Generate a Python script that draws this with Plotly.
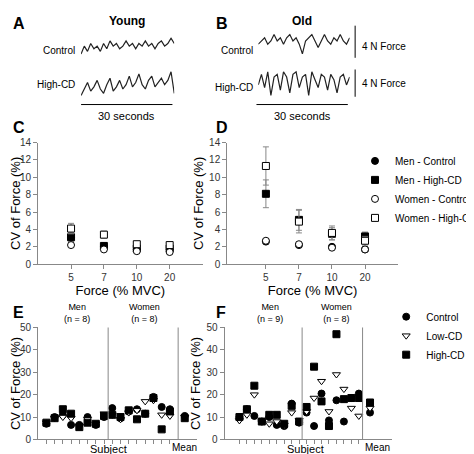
import plotly.graph_objects as go

W, H = 474, 454
def px(x): return x / W
def py(y): return 1 - y / H

# ---- traces (A, B) ----
young_control = [0.2,0.5,0.3,0.6,0.4,0.5,0.3,0.6,0.4,0.7,0.5,0.6,0.4,0.5,0.7,0.5,0.6,0.4,0.6,0.5,0.7,0.5,0.6,0.4,0.6,0.7,0.5,0.6,0.8,0.6]
young_high = [0.2,0.5,0.8,0.4,0.6,0.9,0.5,0.3,0.7,1.0,0.4,0.6,0.9,0.5,0.7,1.1,0.6,0.8,1.2,0.7,0.5,0.9,1.1,0.6,0.8,1.0,0.7,0.9,1.3,0.3]
old_control = [0.5,0.6,0.7,0.5,0.6,0.8,0.6,0.7,0.5,0.7,0.8,0.6,0.7,0.5,0.2,0.6,0.7,0.8,0.6,0.4,0.6,0.8,0.6,0.5,0.7,0.6,0.8,0.6,0.5,0.7]
old_high = [0.6,1.0,0.5,1.1,0.2,0.9,1.0,0.4,1.1,0.9,0.3,1.0,1.1,0.5,0.9,1.0,0.2,1.1,0.8,0.5,1.0,0.9,0.4,1.0,0.8,0.3,0.9,1.0,0.6,0.9]

# ---- C / D ----
force_cats = ["5", "7", "10", "20"]
c_men_ctrl = [3.1, 2.0, 1.7, 1.7]
c_men_high = [3.1, 2.1, 1.8, 1.8]
c_wom_ctrl = [2.2, 1.7, 1.5, 1.4]
c_wom_high = [4.1, 3.4, 2.3, 2.2]
c_err_high = [0.6, 0.4, 0.2, 0.2]
c_err_ctrl = [0.5, 0.2, 0.1, 0.1]
d_men_ctrl = [2.6, 2.2, 2.0, 1.7]
d_men_high = [8.1, 5.1, 3.5, 3.2]
d_wom_ctrl = [2.7, 2.3, 1.9, 1.7]
d_wom_high = [11.3, 4.9, 3.6, 2.7]
d_err_wom_high = [2.2, 1.3, 0.8, 0.5]
d_err_men_high = [1.6, 1.2, 0.7, 0.5]

# ---- E / F ----
e_ctrl = [7,10,11,6.5,6.5,10,6.5,10, 14,9.5,12.5,13.5,11.5,19,14.5,13.5]
e_low = [7.5,9.5,10,9.5,6,9,7,11.5, 11,9,12,13,17,17.5,11,10.5]
e_high = [7.5,9.5,13.5,11.5,5.5,7.5,7,10.5, 11,10,13,9,11.5,18.5,4.5,12.5]
e_mean = [10.5, 10, 9.5]
f_ctrl = [10,13.5,10.5,8,10,6.5,6,16,7.5, 12,6,20.5,8.5,17.5,8,18.5,20.5]
f_low = [8.5,11,20,8,7,8,6.5,12,8.5, 12.5,18.5,26,12.5,29,22.5,14,10.5]
f_high = [10,13.5,24,8,11,11,7,15,8, 14.5,32.5,17,6,47,18,18.5,18.5]
f_mean = [12, 14, 16.5]

fig = go.Figure()
BLK = "black"
GR = "#888"

def line_trace(y, xa, ya):
    fig.add_trace(go.Scatter(x=list(range(len(y))), y=y, mode="lines",
                             line=dict(color="#222", width=1.2), xaxis=xa, yaxis=ya, showlegend=False))

line_trace(young_control, "x", "y")
line_trace(young_high, "x2", "y2")
line_trace(old_control, "x3", "y3")
line_trace(old_high, "x4", "y4")

def mk(sym, fill, size=7):
    return dict(symbol=sym, size=size, color=fill, line=dict(color=BLK, width=1))

pos = [1, 2, 3, 4]
def cd(xa, ya, mc, mh, wc, wh, ewh, emh, emc, legend):
    fig.add_trace(go.Scatter(x=pos, y=mc, mode="markers", marker=mk("circle", BLK), name="Men - Control",
                             error_y=dict(array=emc, color=GR, width=3, thickness=1), xaxis=xa, yaxis=ya, showlegend=legend))
    fig.add_trace(go.Scatter(x=pos, y=mh, mode="markers", marker=mk("square", BLK), name="Men - High-CD",
                             error_y=dict(array=emh, color=GR, width=3, thickness=1), xaxis=xa, yaxis=ya, showlegend=legend))
    fig.add_trace(go.Scatter(x=pos, y=wc, mode="markers", marker=mk("circle", "white"), name="Women - Control",
                             xaxis=xa, yaxis=ya, showlegend=legend))
    fig.add_trace(go.Scatter(x=pos, y=wh, mode="markers", marker=mk("square", "white"), name="Women - High-CD",
                             error_y=dict(array=ewh, color=GR, width=3, thickness=1), xaxis=xa, yaxis=ya, showlegend=legend))

cd("x5", "y5", c_men_ctrl, c_men_high, c_wom_ctrl, c_wom_high, c_err_high, c_err_high, c_err_ctrl, False)
cd("x6", "y6", d_men_ctrl, d_men_high, d_wom_ctrl, d_wom_high, d_err_wom_high, d_err_men_high, [0.2]*4, True)

def ef(xa, ya, ctrl, low, high, mean, meanx, legend):
    xs = list(range(1, len(ctrl) + 1))
    for vals, m, nm in [(ctrl, mk("circle", BLK), "Control"), (low, mk("triangle-down", "white"), "Low-CD"),
                        (high, mk("square", BLK), "High-CD")]:
        fig.add_trace(go.Scatter(x=xs, y=vals, mode="markers", marker=m, name=nm, xaxis=xa, yaxis=ya,
                                 showlegend=legend, legend="legend2"))
    for v, m in zip(mean, [mk("circle", BLK), mk("triangle-down", "white"), mk("square", BLK)]):
        fig.add_trace(go.Scatter(x=[meanx], y=[v], mode="markers", marker=m, xaxis=xa, yaxis=ya, showlegend=False))

ef("x7", "y7", e_ctrl, e_low, e_high, e_mean, 17.8, False)
ef("x8", "y8", f_ctrl, f_low, f_high, f_mean, 18.5, True)

hid = dict(visible=False)
lay = dict(width=W, height=H, margin=dict(l=0, r=0, t=0, b=0), plot_bgcolor="white", paper_bgcolor="white",
           font=dict(family="Liberation Sans, Arial", size=11, color="black"))
lay["xaxis"] = dict(domain=[px(80), px(182)], **hid)
lay["yaxis"] = dict(domain=[py(42), py(24)], **hid)
lay["xaxis2"] = dict(domain=[px(80), px(182)], anchor="y2", **hid)
lay["yaxis2"] = dict(domain=[py(85), py(58)], anchor="x2", **hid)
lay["xaxis3"] = dict(domain=[px(274), px(374)], anchor="y3", **hid)
lay["yaxis3"] = dict(domain=[py(42), py(20)], anchor="x3", **hid)
lay["xaxis4"] = dict(domain=[px(274), px(374)], anchor="y4", **hid)
lay["yaxis4"] = dict(domain=[py(85), py(58)], anchor="x4", **hid)

ax = dict(showline=True, linecolor=GR, ticks="outside", tickcolor=GR, ticklen=4, showgrid=False, zeroline=False,
          tickfont=dict(size=10, color="#333"))
ytitle = dict(text="CV of Force (%)", font=dict(size=13), standoff=2)
xtitle = dict(text="Force (% MVC)", font=dict(size=13), standoff=0)
cy0, cy1 = py(257), py(132)
lay["xaxis5"] = dict(domain=[px(33), px(213)], anchor="y5", range=[0, 5], tickvals=pos, ticktext=force_cats,
                     title=xtitle, **ax)
lay["yaxis5"] = dict(domain=[cy0, cy1], anchor="x5", range=[0, 14], dtick=2, title=ytitle, **ax)
lay["xaxis6"] = dict(domain=[px(240), px(427)], anchor="y6", range=[-0.17, 5], tickvals=pos, ticktext=force_cats,
                     title=xtitle, **ax)
lay["yaxis6"] = dict(domain=[cy0, cy1], anchor="x6", range=[0, 14], dtick=2, title=ytitle, **ax)
ey0, ey1 = py(437), py(322)
lay["xaxis7"] = dict(domain=[px(33), px(207)], anchor="y7", range=[0, 19.3], tickvals=list(range(1, 17)),
                     showticklabels=False, **ax)
lay["yaxis7"] = dict(domain=[ey0, ey1], anchor="x7", range=[0, 50], dtick=10, title=ytitle, **ax)
lay["xaxis8"] = dict(domain=[px(237), px(420)], anchor="y8", range=[-1, 21.4], tickvals=list(range(1, 18)),
                     showticklabels=False, **ax)
lay["yaxis8"] = dict(domain=[ey0, ey1], anchor="x8", range=[0, 50], dtick=10, title=ytitle, **ax)
lay["legend"] = dict(x=px(380), y=py(136), xanchor="left", yanchor="top", font=dict(size=10),
                     bgcolor="rgba(0,0,0,0)", tracegroupgap=0, itemwidth=30)
lay["legend2"] = dict(x=px(414), y=py(296), xanchor="left", yanchor="top", font=dict(size=10),
                      bgcolor="rgba(0,0,0,0)", itemwidth=30)
fig.update_layout(**lay)

shapes = []
def seg(x0, y0, x1, y1, c=BLK, w=1):
    shapes.append(dict(type="line", xref="paper", yref="paper", x0=px(x0), y0=py(y0), x1=px(x1), y1=py(y1),
                       line=dict(color=c, width=w)))
seg(80, 93, 180, 93)
seg(272, 93, 372, 93)
seg(380, 12, 380, 45)
seg(380, 57, 380, 85)
for xa, ya, xv in [("x7", "y7", 8.5), ("x7", "y7", 17), ("x8", "y8", 9.4), ("x8", "y8", 17.5)]:
    shapes.append(dict(type="line", xref=xa, yref=ya + " domain", x0=xv, x1=xv, y0=0, y1=1,
                       line=dict(color=GR, width=1)))
fig.update_layout(shapes=shapes)

anns = []
def txt(x, y, t, size=11, bold=False, xa="center"):
    anns.append(dict(x=px(x), y=py(y), xref="paper", yref="paper", text=f"<b>{t}</b>" if bold else t,
                     showarrow=False, font=dict(size=size), xanchor=xa, yanchor="middle"))
txt(3, 10, "A", 16, True, "left"); txt(226, 10, "B", 16, True, "left")
txt(3, 117, "C", 16, True, "left"); txt(226, 117, "D", 16, True, "left")
txt(3, 307, "E", 16, True, "left"); txt(226, 307, "F", 16, True, "left")
txt(130, 7, "Young", 12, True); txt(322, 7, "Old", 12, True)
txt(75, 37, "Control", 10, False, "right"); txt(75, 72, "High-CD", 10, False, "right")
txt(270, 37, "Control", 10, False, "right"); txt(270, 75, "High-CD", 10, False, "right")
txt(385, 33, "4 N Force", 10, False, "left"); txt(385, 71, "4 N Force", 10, False, "left")
txt(130, 105, "30 seconds", 11); txt(322, 105, "30 seconds", 11)
txt(76, 307, "Men<br>(n = 8)", 9); txt(149, 307, "Women<br>(n = 8)", 9)
txt(287, 307, "Men<br>(n = 9)", 9); txt(360, 307, "Women<br>(n = 8)", 9)
txt(110, 447, "Subject", 11); txt(193, 445, "Mean", 10)
txt(326, 447, "Subject", 11); txt(405, 445, "Mean", 10)
fig.update_layout(annotations=anns)

fig.write_html("out.html")
